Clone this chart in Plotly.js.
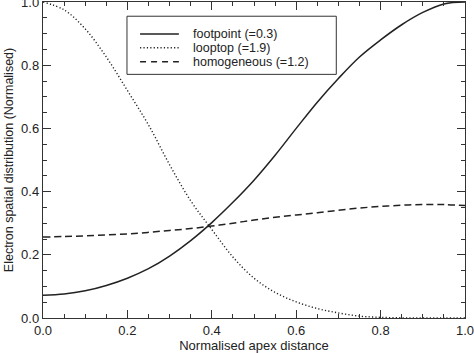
<!DOCTYPE html>
<html>
<head>
<meta charset="utf-8">
<script src="https://cdn.plot.ly/plotly-3.0.1.min.js"></script>
<style>html,body{margin:0;padding:0;background:#fff;}#chart{width:474px;height:353px;}</style>
</head>
<body>
<div id="chart"></div>
<script>
// Normalised apex distance grid
const apexDistance = [0, 0.05, 0.1, 0.15, 0.2, 0.25, 0.3, 0.35, 0.4, 0.45, 0.5, 0.55, 0.6, 0.65, 0.7, 0.75, 0.8, 0.85, 0.9, 0.95, 1.0];
// Series values
const footpoint   = [0.072, 0.076, 0.086, 0.103, 0.126, 0.156, 0.196, 0.245, 0.302, 0.366, 0.436, 0.515, 0.600, 0.683, 0.758, 0.826, 0.880, 0.928, 0.967, 0.994, 1.0];
const looptop     = [1.0, 0.975, 0.915, 0.826, 0.72, 0.611, 0.485, 0.371, 0.28, 0.193, 0.126, 0.081, 0.051, 0.03, 0.016, 0.006, 0.002, 0.0005, 0, 0, 0];
const homogeneous = [0.256, 0.258, 0.26, 0.263, 0.266, 0.271, 0.277, 0.283, 0.291, 0.300, 0.310, 0.319, 0.326, 0.333, 0.341, 0.348, 0.353, 0.357, 0.359, 0.359, 0.356];
const seriesNames = ["footpoint (=0.3)", "looptop (=1.9)", "homogeneous (=1.2)"];
const xTickLabels = ["0.0", "0.2", "0.4", "0.6", "0.8", "1.0"];
const yTickLabels = ["0.0", "0.2", "0.4", "0.6", "0.8", "1.0"];
const tickVals = [0, 0.2, 0.4, 0.6, 0.8, 1.0];

const ink = "#222";
const styles = [
  {color: ink, width: 1.5, dash: "solid"},
  {color: ink, width: 1.4, dash: "1.2px,2.2px"},
  {color: ink, width: 1.5, dash: "7px,4px"}
];
const seriesData = [footpoint, looptop, homogeneous];

const traces = seriesData.map((ys, i) => ({
  x: apexDistance, y: ys, name: seriesNames[i], mode: "lines", showlegend: false,
  line: Object.assign({}, styles[i], {shape: "spline", smoothing: 1})
}));

const axisCommon = {
  range: [0, 1], showgrid: false, zeroline: false,
  showline: true, linecolor: "#333", linewidth: 1.2, mirror: "allticks",
  ticks: "inside", ticklen: 8, tickwidth: 1, tickcolor: "#333",
  tickvals: tickVals, ticklabeloverflow: "allow",
  minor: {dtick: 0.05, ticks: "inside", ticklen: 4, tickwidth: 1, tickcolor: "#333", showgrid: false},
  tickfont: {family: "Liberation Sans, Arial, sans-serif", size: 13, color: ink}
};

// Legend drawn as a framed box with sample lines and text labels
const legendRows = [0.899, 0.855, 0.811];
const shapes = [
  {type: "rect", xref: "paper", yref: "paper", x0: 0.199, x1: 0.695, y0: 0.771, y1: 0.955,
   line: {color: "#333", width: 1}}
];
const annotations = [];
legendRows.forEach((yy, i) => {
  shapes.push({type: "line", xref: "paper", yref: "paper", x0: 0.230, x1: 0.322, y0: yy, y1: yy,
    line: {color: styles[i].color, width: styles[i].width, dash: i === 2 ? "6px,5px" : styles[i].dash}});
  annotations.push({xref: "paper", yref: "paper", x: 0.351, y: yy, xanchor: "left", yanchor: "middle",
    text: seriesNames[i], showarrow: false, font: {size: 12.5, color: ink}});
});

const layout = {
  width: 474, height: 353,
  margin: {l: 43, r: 9, t: 2, b: 35},
  paper_bgcolor: "#fff", plot_bgcolor: "#fff",
  font: {family: "Liberation Sans, Arial, sans-serif", color: ink},
  showlegend: false,
  xaxis: Object.assign({}, axisCommon, {
    ticktext: xTickLabels,
    title: {text: "Normalised apex distance", font: {size: 13, color: ink}, standoff: 2}
  }),
  yaxis: Object.assign({}, axisCommon, {
    ticktext: yTickLabels,
    title: {text: "Electron spatial distribution (Normalised)", font: {size: 12.5, color: ink}, standoff: 4}
  }),
  shapes: shapes,
  annotations: annotations
};

Plotly.newPlot("chart", traces, layout, {staticPlot: true, displayModeBar: false});
</script>
</body>
</html>
